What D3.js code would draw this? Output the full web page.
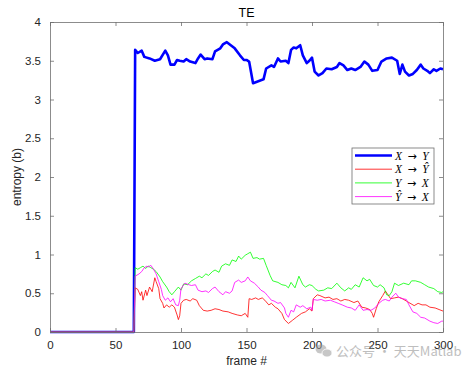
<!DOCTYPE html>
<html>
<head>
<meta charset="utf-8">
<script src="https://cdn.jsdelivr.net/npm/d3@7"></script>
<style>
  body { margin: 0; background: #fff; }
  svg { display: block; }
</style>
</head>
<body>
<div class="chart"></div>
<script>
var svgWidth = 474;
var svgHeight = 370;

var margin = { top: 22, right: 31, bottom: 38, left: 50 };
var width = svgWidth - margin.left - margin.right;
var height = svgHeight - margin.top - margin.bottom;

// series: [frame, entropy] pairs
var teXY = [[0,0],[64,0],[65,3.64],[67,3.60],[70,3.63],[72,3.55],[76,3.53],[80,3.50],[84,3.52],[88,3.63],[90,3.57],[92,3.45],[95,3.45],[97,3.51],[99,3.50],[102,3.49],[104,3.52],[107,3.49],[111,3.47],[113,3.53],[115,3.58],[118,3.52],[120,3.53],[124,3.52],[126,3.62],[130,3.66],[132,3.71],[135,3.74],[138,3.70],[141,3.66],[145,3.57],[148,3.51],[150,3.51],[152,3.49],[155,3.21],[158,3.23],[163,3.26],[165,3.40],[169,3.44],[171,3.42],[174,3.53],[176,3.49],[180,3.50],[182,3.47],[184,3.64],[186,3.67],[188,3.66],[191,3.70],[193,3.57],[196,3.47],[198,3.50],[200,3.54],[202,3.36],[205,3.31],[208,3.34],[211,3.40],[215,3.39],[219,3.42],[221,3.47],[224,3.44],[227,3.38],[230,3.40],[233,3.38],[237,3.42],[240,3.49],[243,3.45],[246,3.37],[250,3.38],[253,3.49],[257,3.53],[261,3.54],[265,3.50],[267,3.33],[269,3.45],[271,3.36],[274,3.31],[277,3.33],[280,3.38],[283,3.45],[285,3.40],[288,3.37],[290,3.34],[293,3.39],[295,3.37],[298,3.40],[300,3.39]];

var teXYhat = [[0,0],[64,0],[65,0.57],[67,0.55],[69,0.47],[70,0.52],[71,0.41],[73,0.54],[74,0.47],[76,0.58],[78,0.52],[80,0.70],[81,0.65],[83,0.56],[84,0.43],[86,0.37],[87,0.31],[89,0.35],[91,0.32],[93,0.35],[95,0.32],[97,0.22],[98,0.16],[99,0.21],[100,0.37],[102,0.41],[104,0.42],[107,0.40],[109,0.43],[112,0.41],[114,0.34],[117,0.28],[120,0.27],[123,0.28],[126,0.30],[129,0.29],[132,0.27],[136,0.26],[139,0.24],[143,0.22],[146,0.21],[149,0.24],[151,0.19],[152,0.43],[154,0.42],[157,0.44],[159,0.42],[162,0.44],[164,0.41],[167,0.35],[169,0.37],[172,0.32],[174,0.30],[177,0.24],[179,0.16],[182,0.11],[185,0.15],[188,0.19],[192,0.24],[195,0.26],[198,0.30],[200,0.27],[201,0.43],[204,0.48],[206,0.47],[210,0.44],[213,0.45],[216,0.42],[219,0.43],[222,0.40],[225,0.42],[228,0.41],[232,0.38],[235,0.40],[238,0.32],[241,0.31],[244,0.29],[246,0.24],[247,0.19],[249,0.30],[251,0.39],[254,0.47],[256,0.53],[258,0.48],[260,0.43],[263,0.44],[266,0.45],[269,0.43],[272,0.40],[274,0.38],[278,0.34],[281,0.37],[284,0.35],[287,0.35],[290,0.32],[294,0.31],[297,0.29],[300,0.27]];

var teYX = [[0,0],[64,0],[65,0.83],[67,0.81],[69,0.83],[71,0.85],[73,0.82],[75,0.85],[77,0.83],[79,0.81],[81,0.78],[84,0.71],[86,0.65],[89,0.58],[91,0.52],[93,0.48],[95,0.52],[98,0.58],[100,0.54],[102,0.62],[105,0.61],[108,0.66],[111,0.69],[114,0.72],[116,0.70],[119,0.75],[121,0.73],[124,0.78],[126,0.80],[129,0.77],[131,0.85],[134,0.88],[137,0.86],[139,0.93],[142,0.91],[144,0.98],[146,0.94],[149,0.99],[151,1.01],[153,1.03],[155,0.95],[158,0.96],[160,0.94],[163,0.95],[165,0.86],[168,0.73],[170,0.66],[174,0.64],[177,0.61],[180,0.60],[182,0.57],[184,0.64],[187,0.57],[190,0.72],[193,0.61],[195,0.58],[198,0.61],[200,0.60],[203,0.55],[205,0.53],[209,0.54],[212,0.57],[215,0.56],[219,0.63],[222,0.57],[225,0.53],[228,0.57],[230,0.55],[233,0.61],[236,0.58],[239,0.70],[242,0.66],[244,0.68],[247,0.60],[250,0.58],[252,0.61],[255,0.57],[257,0.48],[259,0.47],[261,0.52],[263,0.63],[266,0.60],[270,0.63],[274,0.61],[276,0.66],[279,0.66],[283,0.64],[286,0.61],[289,0.58],[293,0.56],[296,0.52],[299,0.51],[300,0.52]];

var teYhatX = [[0,0],[64,0],[65,0.72],[68,0.75],[70,0.78],[72,0.83],[74,0.85],[75,0.84],[77,0.86],[79,0.81],[81,0.75],[83,0.65],[85,0.55],[86,0.47],[88,0.41],[90,0.44],[92,0.39],[94,0.43],[96,0.35],[98,0.34],[99,0.41],[100,0.56],[103,0.63],[106,0.61],[108,0.60],[111,0.61],[113,0.54],[116,0.52],[119,0.53],[121,0.51],[124,0.56],[126,0.58],[129,0.52],[132,0.48],[134,0.52],[137,0.50],[139,0.53],[141,0.64],[144,0.67],[146,0.64],[149,0.66],[151,0.71],[153,0.66],[156,0.63],[159,0.58],[161,0.54],[164,0.51],[166,0.47],[169,0.41],[171,0.40],[174,0.37],[176,0.38],[179,0.31],[180,0.24],[182,0.19],[184,0.28],[186,0.26],[188,0.35],[191,0.32],[193,0.34],[196,0.30],[199,0.32],[200,0.28],[201,0.42],[204,0.41],[207,0.42],[210,0.40],[214,0.41],[217,0.39],[220,0.37],[223,0.35],[227,0.32],[230,0.31],[233,0.28],[236,0.35],[239,0.28],[242,0.29],[245,0.28],[248,0.31],[251,0.37],[254,0.41],[256,0.42],[259,0.40],[261,0.45],[264,0.50],[266,0.45],[269,0.43],[272,0.42],[274,0.35],[277,0.26],[280,0.24],[283,0.19],[286,0.18],[290,0.14],[293,0.12],[296,0.11],[299,0.14],[300,0.14]];

var xTicks = [0, 50, 100, 150, 200, 250, 300];
var yTicks = [0, 0.5, 1, 1.5, 2, 2.5, 3, 3.5, 4];

// legend entries: [lhs, lhsHat, rhs, rhsHat]
var legendLabels = [["X", false, "Y", false], ["X", false, "Y", true], ["Y", false, "X", false], ["Y", true, "X", false]];

var series = [
  { data: teXY, color: "#0000ff", w: 2.6 },
  { data: teXYhat, color: "#ff0000", w: 0.8 },
  { data: teYX, color: "#00ff00", w: 0.8 },
  { data: teYhatX, color: "#ff00ff", w: 0.8 }
];

var svg = d3.select(".chart")
  .append("svg")
  .attr("width", svgWidth)
  .attr("height", svgHeight)
  .style("font-family", "'Liberation Sans', Arial, sans-serif");

var chartGroup = svg.append("g")
  .attr("transform", `translate(${margin.left}, ${margin.top})`);

var xScale = d3.scaleLinear().domain([0, 300]).range([0, width]);
var yScale = d3.scaleLinear().domain([0, 4]).range([height, 0]);

var axisColor = "#6e6e6e";
var textColor = "#262626";
var numFmt = d => String(d);

function styleAxis(g) {
  g.select(".domain").attr("stroke", axisColor).attr("stroke-width", 0.8);
  g.selectAll(".tick line").attr("stroke", axisColor).attr("stroke-width", 0.8);
  g.selectAll(".tick text").attr("fill", textColor).style("font-size", "11.5px");
}

// lines
var line = d3.line().x(d => xScale(d[0])).y(d => yScale(d[1]));

series.forEach(function(s) {
  chartGroup.append("path")
    .datum(s.data)
    .attr("fill", "none")
    .attr("stroke", s.color)
    .attr("stroke-width", s.w)
    .attr("stroke-linejoin", "round")
    .attr("d", line);
});

// axes (box with inward ticks)
chartGroup.append("g")
  .attr("transform", `translate(0, ${height})`)
  .call(d3.axisBottom(xScale).tickValues(xTicks).tickFormat(numFmt).tickSizeInner(-4).tickSizeOuter(0).tickPadding(9))
  .call(styleAxis);

chartGroup.append("g")
  .call(d3.axisTop(xScale).tickValues(xTicks).tickSizeInner(-4).tickSizeOuter(0).tickFormat(""))
  .call(styleAxis);

chartGroup.append("g")
  .call(d3.axisLeft(yScale).tickValues(yTicks).tickFormat(numFmt).tickSizeInner(-4).tickSizeOuter(0).tickPadding(9))
  .call(styleAxis);

chartGroup.append("g")
  .attr("transform", `translate(${width}, 0)`)
  .call(d3.axisRight(yScale).tickValues(yTicks).tickSizeInner(-4).tickSizeOuter(0).tickFormat(""))
  .call(styleAxis);

// title and axis labels
svg.append("text")
  .attr("x", margin.left + width / 2)
  .attr("y", 17)
  .attr("text-anchor", "middle")
  .attr("fill", "#000")
  .style("font-size", "12.5px")
  .text("TE");

svg.append("text")
  .attr("x", margin.left + width / 2)
  .attr("y", 365)
  .attr("text-anchor", "middle")
  .attr("fill", textColor)
  .style("font-size", "12px")
  .text("frame #");

svg.append("text")
  .attr("transform", `translate(21, ${margin.top + height / 2}) rotate(-90)`)
  .attr("text-anchor", "middle")
  .attr("fill", textColor)
  .style("font-size", "12px")
  .text("entropy (b)");

// legend
var legend = svg.append("g").attr("transform", "translate(352, 148)");
legend.append("rect")
  .attr("width", 82)
  .attr("height", 56)
  .attr("fill", "#fff")
  .attr("stroke", axisColor)
  .attr("stroke-width", 0.8);

legendLabels.forEach(function(lab, i) {
  var yy = 7.5 + i * 13.7;
  legend.append("line")
    .attr("x1", 3).attr("x2", 40)
    .attr("y1", yy).attr("y2", yy)
    .attr("stroke", series[i].color)
    .attr("stroke-width", series[i].w);
  var t = legend.append("text")
    .attr("x", 43)
    .attr("y", yy + 4)
    .style("font-family", "'Liberation Serif', 'DejaVu Serif', serif")
    .style("font-size", "11.5px")
    .attr("fill", "#000");
  t.append("tspan").style("font-style", "italic").text(lab[1] ? "\u0176" : lab[0]);
  t.append("tspan")
    .style("font-family", "'DejaVu Sans', sans-serif")
    .style("font-size", "11px")
    .text("\u2002\u2192\u2002");
  t.append("tspan").style("font-style", "italic").text(lab[3] ? "\u0176" : lab[2]);
});

// watermark
var wm = svg.append("g").attr("opacity", 0.55);
wm.append("ellipse").attr("cx", 321).attr("cy", 349).attr("rx", 5.5).attr("ry", 4.5).attr("fill", "#9a9a9a");
wm.append("ellipse").attr("cx", 327).attr("cy", 353).attr("rx", 5).attr("ry", 4).attr("fill", "#9a9a9a").attr("stroke", "#fff").attr("stroke-width", 0.8);
wm.append("text")
  .attr("x", 336)
  .attr("y", 356)
  .attr("fill", "#8a8a8a")
  .style("font-family", "'Noto Sans CJK SC', sans-serif")
  .style("font-size", "13px")
  .text("公众号 · 天天Matlab");
</script>
</body>
</html>
